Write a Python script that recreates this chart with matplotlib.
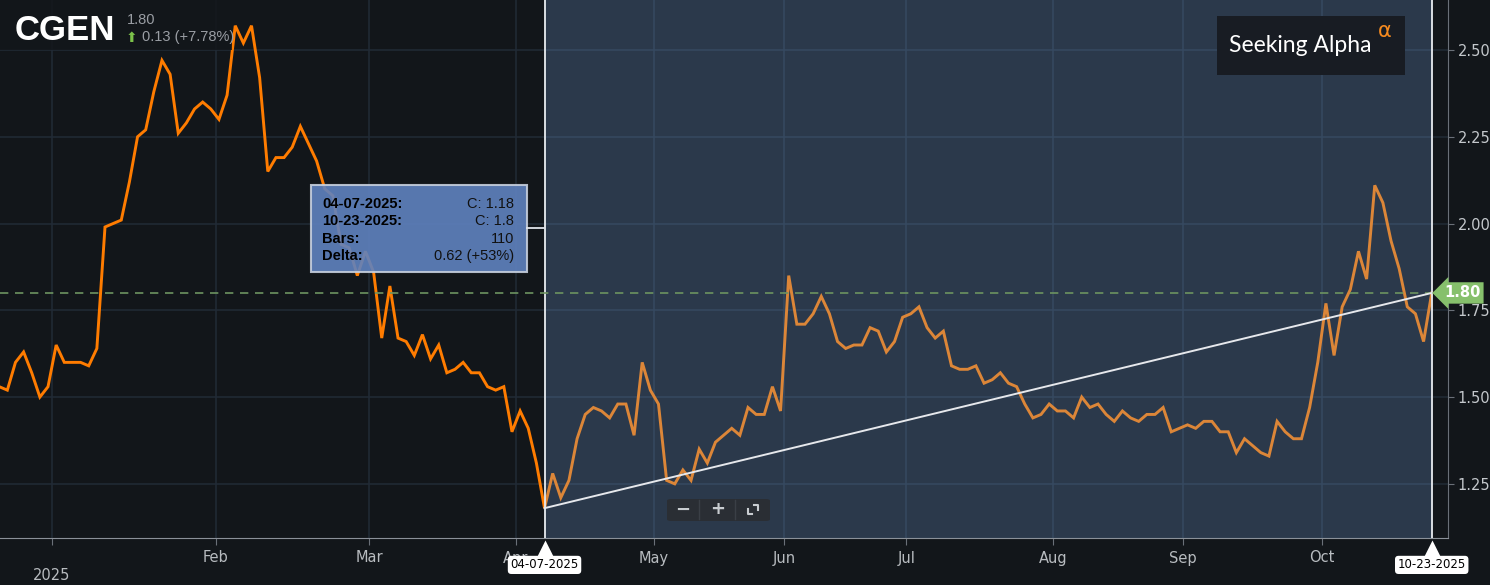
import matplotlib
matplotlib.use('Agg')
import matplotlib.pyplot as plt
import matplotlib.transforms as mtransforms
from matplotlib.patches import Rectangle, FancyBboxPatch
from matplotlib.lines import Line2D

# CGEN daily closes, one value per bar
close = [1.53, 1.52, 1.60, 1.63, 1.57, 1.50, 1.53, 1.65, 1.60, 1.60,
         1.60, 1.59, 1.64, 1.99, 2.00, 2.01, 2.12, 2.25, 2.27, 2.38,
         2.47, 2.43, 2.26, 2.29, 2.33, 2.35, 2.33, 2.30, 2.37, 2.57,
         2.52, 2.57, 2.42, 2.15, 2.19, 2.19, 2.22, 2.28, 2.23, 2.18,
         2.10, 2.08, 1.94, 1.93, 1.85, 1.92, 1.86, 1.67, 1.82, 1.67,
         1.66, 1.62, 1.68, 1.61, 1.65, 1.57, 1.58, 1.60, 1.57, 1.57,
         1.53, 1.52, 1.53, 1.40, 1.46, 1.41, 1.31, 1.18, 1.28, 1.21,
         1.26, 1.38, 1.45, 1.47, 1.46, 1.44, 1.48, 1.48, 1.39, 1.60,
         1.52, 1.48, 1.26, 1.25, 1.29, 1.26, 1.35, 1.31, 1.37, 1.39,
         1.41, 1.39, 1.47, 1.45, 1.45, 1.53, 1.46, 1.85, 1.71, 1.71,
         1.74, 1.79, 1.74, 1.66, 1.64, 1.65, 1.65, 1.70, 1.69, 1.63,
         1.66, 1.73, 1.74, 1.76, 1.70, 1.67, 1.69, 1.59, 1.58, 1.58,
         1.59, 1.54, 1.55, 1.57, 1.54, 1.53, 1.48, 1.44, 1.45, 1.48,
         1.46, 1.46, 1.44, 1.50, 1.47, 1.48, 1.45, 1.43, 1.46, 1.44,
         1.43, 1.45, 1.45, 1.47, 1.40, 1.41, 1.42, 1.41, 1.43, 1.43,
         1.40, 1.40, 1.34, 1.38, 1.36, 1.34, 1.33, 1.43, 1.40, 1.38,
         1.38, 1.47, 1.60, 1.77, 1.62, 1.76, 1.81, 1.92, 1.84, 2.11,
         2.06, 1.95, 1.87, 1.76, 1.74, 1.66, 1.80]

# month ticks, in bar units
month_pos = [6.45, 26.6, 45.47, 63.46, 80.45, 96.46, 111.45, 129.44, 145.4, 162.5]
month_labels = ['\n2025', 'Feb', 'Mar', 'Apr', 'May', 'Jun', 'Jul', 'Aug', 'Sep', 'Oct']
y_ticks = [1.25, 1.50, 1.75, 2.00, 2.25, 2.50]

# measured range: first and last bar
sel_start, sel_end = 67, 176
sel_labels = ['04-07-2025', '10-23-2025']
ticker = 'CGEN'
change_txt = '0.13 (+7.78%)'

BG = '#12161a'
W, H = 1490, 585

fig = plt.figure(figsize=(W / 100, H / 100), dpi=100, facecolor=BG)
ax = fig.add_axes([0, (H - 538) / H, 1448 / W, 538 / H])
ax.set_facecolor(BG)

x = list(range(len(close)))
ax.plot(x, close, color='#ff7c00', lw=2.1, zorder=2, solid_joinstyle='miter')

ax.set_xlim(0.1, 178.0)
ax.set_ylim(1.094, 2.644)

# grid
ax.set_xticks(month_pos, month_labels)
ax.set_yticks(y_ticks, [f'{v:.2f}' for v in y_ticks])
ax.grid(True, color='#212b36', lw=1.1, zorder=0)
ax.set_axisbelow(True)
ax.yaxis.tick_right()
ax.tick_params(axis='y', colors='#6a7078', labelcolor='#c4c8cc', labelsize=10.5,
               length=4, pad=3)
ax.tick_params(axis='x', colors='#6a7078', labelcolor='#b8bcc0', labelsize=10.5,
               length=5, pad=4)
for s in ['top', 'left']:
    ax.spines[s].set_visible(False)
ax.spines['right'].set_color('#6a7078')
ax.spines['bottom'].set_color('#8a9098')

# selected range overlay
ax.axvspan(sel_start, sel_end, color='#76a5e1', alpha=0.25, lw=0, zorder=3)
ax.axvline(sel_start, color='#e8ecf0', lw=1.3, zorder=4)
ax.axvline(sel_end, color='#e8ecf0', lw=1.3, zorder=4)

# last price dashed line and measure line
ax.axhline(close[-1], color='#6d9460', lw=1.2, dashes=(5, 4), zorder=4)
ax.plot([sel_start, sel_end], [close[sel_start], close[sel_end]],
        color='#e6e8ec', lw=1.4, zorder=5)

# price tag on the axis
trans = mtransforms.blended_transform_factory(ax.transAxes, ax.transData)
ax.text(1.0 - 4 / 1448, close[-1], f'{close[-1]:.2f}', transform=trans,
        ha='left', va='center', color='white', fontsize=10.5, fontweight='bold',
        bbox=dict(boxstyle='larrow,pad=0.22', fc='#86c06c', ec='none'),
        clip_on=False, zorder=10)

# date flags below the axis
tx = mtransforms.blended_transform_factory(ax.transData, ax.transAxes)
for pos, lab in zip([sel_start, sel_end], sel_labels):
    ax.plot([pos], [-0.018], marker='^', ms=12, color='white', mec='none',
            transform=tx, clip_on=False, zorder=10)
    ax.text(pos, -0.05, lab, transform=tx, ha='center', va='center',
            fontsize=8.5, color='black', clip_on=False, zorder=11,
            bbox=dict(boxstyle='round,pad=0.22,rounding_size=0.3', fc='white', ec='none'))


def fx(px):
    return px / W


def fy(py):
    return 1 - py / H


# header box
fig.add_artist(Rectangle((0, fy(50)), fx(232), 50 / H, transform=fig.transFigure,
                         fc=BG, ec='none', alpha=0.82, zorder=5))
fig.text(fx(15), fy(31), ticker, color='white', fontsize=25, fontweight='bold',
         family='Liberation Sans', va='center', zorder=6)
fig.text(fx(127), fy(20), f'{close[-1]:.2f}', color='#9a9ea4', fontsize=10.5,
         va='center', family='Liberation Sans', zorder=6)
fig.text(fx(126), fy(37.5), '\u2b06', color='#7cc24a', fontsize=10, va='center',
         family='DejaVu Sans', zorder=6)
fig.text(fx(142), fy(37), change_txt, color='#9a9ea4', fontsize=10.5,
         va='center', family='Liberation Sans', zorder=6)

# info box
fig.add_artist(Rectangle((fx(311), fy(272)), 216 / W, 87 / H, transform=fig.transFigure,
                         fc='#5f82bf', ec='#c6cedc', lw=1.5, alpha=0.9, zorder=5))
fig.add_artist(Line2D([fx(527), fx(544)], [fy(228), fy(228)], transform=fig.transFigure,
                      color='#e0e4ea', lw=1.3, zorder=5))
rows = [(sel_labels[0] + ':', f'C: {close[sel_start]:.2f}'),
        (sel_labels[1] + ':', f'C: {close[sel_end]:.1f}'),
        ('Bars:', f'{sel_end - sel_start + 1}'),
        ('Delta:', f'{close[sel_end] - close[sel_start]:.2f} '
                   f'(+{(close[sel_end] / close[sel_start] - 1) * 100:.0f}%)')]
for k, (a, b) in enumerate(rows):
    yy = fy(203.5 + k * 17.6)
    fig.text(fx(322), yy, a, color='black', fontsize=10.5, fontweight='bold',
             family='Liberation Sans', va='center', zorder=6)
    fig.text(fx(514), yy, b, color='#111111', fontsize=10.5, ha='right',
             family='Liberation Sans', va='center', zorder=6)

# Seeking Alpha logo
fig.add_artist(Rectangle((fx(1217), fy(75)), 188 / W, 59 / H, transform=fig.transFigure,
                         fc='#181c23', ec='none', zorder=5))
fig.text(fx(1229), fy(45), 'Seeking Alpha', color='white', fontsize=16.5,
         family='Lato', va='center', zorder=6)
fig.text(fx(1378), fy(31), '\u03b1', color='#f58a1f', fontsize=15,
         family='DejaVu Sans', va='center', zorder=6)

# zoom buttons
fig.add_artist(FancyBboxPatch((fx(667), fy(521)), 103 / W, 22 / H,
                              boxstyle='round,pad=0,rounding_size=0.003',
                              transform=fig.transFigure, fc='#2a2e34', ec='none', zorder=5))
for sx in [699, 735]:
    fig.add_artist(Line2D([fx(sx), fx(sx)], [fy(500), fy(519)], transform=fig.transFigure,
                          color='#3a3f46', lw=1, zorder=6))
fig.text(fx(683), fy(509.5), '\u2212', color='#c8ccd0', fontsize=13, fontweight='bold',
         ha='center', va='center', zorder=6)
fig.text(fx(718), fy(509.5), '+', color='#c8ccd0', fontsize=13, fontweight='bold',
         ha='center', va='center', zorder=6)
# expand icon corners
fig.add_artist(Line2D([fx(748), fx(748), fx(752)], [fy(509), fy(514), fy(514)],
                      transform=fig.transFigure, color='#c8ccd0', lw=1.5, zorder=6))
fig.add_artist(Line2D([fx(754), fx(758), fx(758)], [fy(505), fy(505), fy(510)],
                      transform=fig.transFigure, color='#c8ccd0', lw=1.5, zorder=6))

fig.savefig('out.png', dpi=100, facecolor=BG)
